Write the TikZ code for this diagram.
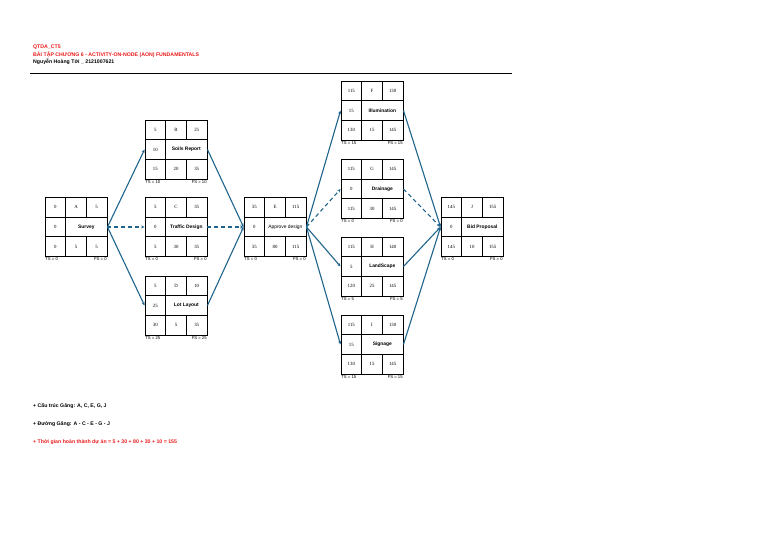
\documentclass[tikz,border=0pt]{standalone}
\usepackage{fontspec}
\setmainfont{Liberation Serif}
\setsansfont{Liberation Sans}
\usetikzlibrary{arrows.meta}
\definecolor{conn}{RGB}{31,100,140}
\definecolor{hdrred}{RGB}{235,25,25}
\begin{document}
\begin{tikzpicture}[x=1pt,y=-1pt,
  cell/.style={font=\fontsize{4.8}{5}\selectfont, inner sep=0},
  lbl/.style={font=\sffamily\bfseries\fontsize{4.9}{5}\selectfont, inner sep=0},
  slack/.style={font=\sffamily\fontsize{4.2}{4.5}\selectfont, inner sep=0.6pt},
  boxframe/.style={draw, line width=0.9pt, minimum width=62pt, minimum height=59pt, inner sep=0},
  grid/.style={line width=0.9pt},
  link/.style={draw=conn, line width=1.1pt, -{Stealth[length=3.5pt,width=3pt]}},
  crit/.style={link, dash pattern=on 4pt off 3pt},
  note/.style={font=\sffamily\bfseries\fontsize{5.2}{6}\selectfont, anchor=west, inner sep=0},
]
\useasboundingbox (0,0) rectangle (768,543);

% header
\node[note, text=hdrred] (h1) at (33,47) {QTDA\_CT5};
\node[note, text=hdrred] (h2) at (33,55) {BÀI TẬP CHƯƠNG 6 - ACTIVITY-ON-NODE (AON) FUNDAMENTALS};
\node[note] (h3) at (33,62) {Nguyễn Hoàng Tới \_ 2121007621};
\draw[line width=0.6pt] (30,73) -- (512,73);

\foreach \n/\x/\y/\a/\b/\c/\d/\e/\f/\g/\h/\ts/\fs in {
 A/76/227/0/A/5/0/Survey/0/5/5/0/0,
 B/176/149.5/5/B/25/10/Soils Report/15/20/35/10/10,
 C/176/227/5/C/35/0/Traffic Design/5/30/35/0/0,
 D/176/305.5/5/D/10/25/Lot Layout/30/5/35/25/25,
 E/275/227/35/E/115/0/{\mdseries Approve design}/35/80/115/0/0,
 F/372/110.5/115/F/130/15/Illumination/130/15/145/15/15,
 G/372/189/115/G/145/0/Drainage/115/30/145/0/0,
 H/372/266.5/115/H/140/5/LandScape/120/25/145/5/5,
 I/372/344.5/115/I/130/15/Signage/130/15/145/15/15,
 J/472/227/145/J/155/0/Bid Proposal/145/10/155/0/0}
{
 \node[boxframe] (\n) at (\x,\y) {};
 \draw[grid] (\x-31,\y-9.83) -- (\x+31,\y-9.83);
 \draw[grid] (\x-31,\y+9.83) -- (\x+31,\y+9.83);
 \draw[grid] (\x-10.33,\y-29.5) -- (\x-10.33,\y+29.5);
 \draw[grid] (\x+10.33,\y-29.5) -- (\x+10.33,\y-9.83);
 \draw[grid] (\x+10.33,\y+9.83) -- (\x+10.33,\y+29.5);
 \node[cell] at (\x-20.67,\y-19.67) {\a};
 \node[cell] at (\x,\y-19.67) {\b};
 \node[cell] at (\x+20.67,\y-19.67) {\c};
 \node[cell] at (\x-20.67,\y) {\d};
 \node[lbl] at (\x+10.33,\y) {\e};
 \node[cell] at (\x-20.67,\y+19.67) {\f};
 \node[cell] at (\x,\y+19.67) {\g};
 \node[cell] at (\x+20.67,\y+19.67) {\h};
 \node[slack, anchor=north west] at (\n.south west) {TS = \ts};
 \node[slack, anchor=north east] at (\n.south east) {FS = \fs};
}

% connectors
\draw[link] (A.east) -- (B.west);
\draw[crit] (A.east) -- (C.west);
\draw[link] (A.east) -- (D.west);
\draw[link] (B.east) -- (E.west);
\draw[crit] (C.east) -- (E.west);
\draw[link] (D.east) -- (E.west);
\draw[link] (E.east) -- (F.west);
\draw[crit] (E.east) -- (G.west);
\draw[link] (E.east) -- (H.west);
\draw[link] (E.east) -- (I.west);
\draw[link] (F.east) -- (J.west);
\draw[crit] (G.east) -- (J.west);
\draw[link] (H.east) -- (J.west);
\draw[link] (I.east) -- (J.west);

% notes
\node[note] (n1) at (33,406) {+ Cấu trúc Găng: A, C, E, G, J};
\node[note] (n2) at (33,424) {+ Đường Găng: A - C - E - G - J};
\node[note, text=hdrred] (n3) at (33,442) {+ Thời gian hoàn thành dự án = 5 + 30 + 80 + 30 + 10 = 155};
\end{tikzpicture}
\end{document}
